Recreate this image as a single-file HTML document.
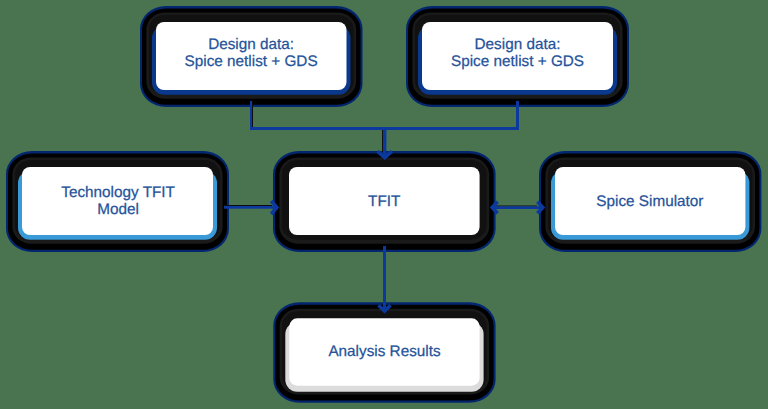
<!DOCTYPE html>
<html><head><meta charset="utf-8"><style>
html,body{margin:0;padding:0;background:#4a7350;overflow:hidden;}
svg{display:block;}
text{font-family:"Liberation Sans",sans-serif;text-rendering:geometricPrecision;}
</style></head><body>
<svg width="768" height="409" viewBox="0 0 768 409">
<rect x="0" y="0" width="768" height="409" fill="#4a7350"/>
<rect x="140.00" y="6.00" width="222.50" height="101.00" rx="26.00" ry="23.00" fill="#03276f"/>
<rect x="142.00" y="8.40" width="218.50" height="96.40" rx="24.00" ry="21.00" fill="#000000"/>
<rect x="146.40" y="12.40" width="209.70" height="86.40" rx="19.00" ry="17.00" fill="#1a1a1b"/>
<rect x="149.00" y="15.00" width="204.50" height="79.70" rx="16.00" ry="14.00" fill="#111111"/>
<rect x="152.00" y="26.00" width="198.50" height="68.80" rx="12.00" ry="12.00" fill="#0a388c"/>
<rect x="156.00" y="22.00" width="190.50" height="68.00" rx="8.00" ry="8.00" fill="#ffffff"/>
<rect x="406.00" y="6.00" width="223.00" height="101.00" rx="26.00" ry="23.00" fill="#03276f"/>
<rect x="408.00" y="8.40" width="219.00" height="96.40" rx="24.00" ry="21.00" fill="#000000"/>
<rect x="412.40" y="12.40" width="210.20" height="86.40" rx="19.00" ry="17.00" fill="#1a1a1b"/>
<rect x="415.00" y="15.00" width="205.00" height="79.70" rx="16.00" ry="14.00" fill="#111111"/>
<rect x="418.00" y="26.00" width="199.00" height="68.80" rx="12.00" ry="12.00" fill="#0a388c"/>
<rect x="422.00" y="22.00" width="191.00" height="68.00" rx="8.00" ry="8.00" fill="#ffffff"/>
<rect x="6.00" y="151.00" width="223.00" height="101.00" rx="26.00" ry="23.00" fill="#03276f"/>
<rect x="8.00" y="153.40" width="219.00" height="96.40" rx="24.00" ry="21.00" fill="#000000"/>
<rect x="12.40" y="157.40" width="210.20" height="86.40" rx="19.00" ry="17.00" fill="#1a1a1b"/>
<rect x="15.00" y="160.00" width="205.00" height="79.70" rx="16.00" ry="14.00" fill="#111111"/>
<rect x="18.00" y="171.00" width="199.00" height="68.80" rx="12.00" ry="12.00" fill="#3a9ad8"/>
<rect x="22.00" y="167.00" width="191.00" height="68.00" rx="8.00" ry="8.00" fill="#ffffff"/>
<rect x="273.00" y="151.00" width="222.60" height="101.00" rx="26.00" ry="23.00" fill="#03276f"/>
<rect x="275.00" y="153.40" width="218.60" height="96.40" rx="24.00" ry="21.00" fill="#000000"/>
<rect x="279.40" y="157.40" width="209.80" height="86.40" rx="19.00" ry="17.00" fill="#1a1a1b"/>
<rect x="282.00" y="160.00" width="204.60" height="79.70" rx="16.00" ry="14.00" fill="#111111"/>
<rect x="289.00" y="167.00" width="190.60" height="68.00" rx="8.00" ry="8.00" fill="#ffffff"/>
<rect x="539.00" y="151.00" width="222.40" height="101.00" rx="26.00" ry="23.00" fill="#03276f"/>
<rect x="541.00" y="153.40" width="218.40" height="96.40" rx="24.00" ry="21.00" fill="#000000"/>
<rect x="545.40" y="157.40" width="209.60" height="86.40" rx="19.00" ry="17.00" fill="#1a1a1b"/>
<rect x="548.00" y="160.00" width="204.40" height="79.70" rx="16.00" ry="14.00" fill="#111111"/>
<rect x="551.00" y="171.00" width="198.40" height="68.80" rx="12.00" ry="12.00" fill="#3a9ad8"/>
<rect x="555.00" y="167.00" width="190.40" height="68.00" rx="8.00" ry="8.00" fill="#ffffff"/>
<rect x="273.30" y="302.30" width="222.30" height="100.40" rx="26.00" ry="23.00" fill="#03276f"/>
<rect x="275.30" y="304.70" width="218.30" height="95.80" rx="24.00" ry="21.00" fill="#000000"/>
<rect x="279.70" y="308.70" width="209.50" height="85.80" rx="19.00" ry="17.00" fill="#1a1a1b"/>
<rect x="282.30" y="311.30" width="204.30" height="79.10" rx="16.00" ry="14.00" fill="#111111"/>
<rect x="285.30" y="322.30" width="198.30" height="69.40" rx="12.00" ry="12.00" fill="#dcdcdc"/>
<rect x="289.30" y="318.30" width="190.30" height="67.40" rx="8.00" ry="8.00" fill="#ffffff"/>
<rect x="252" y="101" width="1" height="29" fill="#0d0d0d"/>
<rect x="250" y="101" width="2" height="29" fill="#0b399e"/>
<rect x="516" y="101" width="3" height="29" fill="#0b399e"/>
<rect x="250" y="127" width="269" height="3" fill="#0b399e"/>
<rect x="382" y="130" width="1" height="22" fill="#111"/>
<rect x="383" y="130" width="3.4" height="26" fill="#0b399e"/>
<path d="M377.6,151.4 L384.7,157.6 L391.8,151.4" fill="none" stroke="#0b399e" stroke-width="3.6" stroke-linejoin="miter" stroke-miterlimit="4" stroke-linecap="butt"/>
<rect x="224" y="205" width="48" height="1" fill="#0d0d0d"/>
<rect x="224" y="206" width="52" height="2.7" fill="#0b399e"/>
<path d="M271.2,201 L276.8,207.5 L271.2,214" fill="none" stroke="#0b399e" stroke-width="3.6" stroke-linejoin="miter" stroke-miterlimit="4" stroke-linecap="butt"/>
<rect x="496" y="205.5" width="41" height="1" fill="#0d0d0d"/>
<rect x="492" y="206.3" width="50" height="2.7" fill="#0b399e"/>
<path d="M497.6,201.8 L492.2,207.5 L497.6,213.2" fill="none" stroke="#0b399e" stroke-width="3.6" stroke-linejoin="miter" stroke-miterlimit="4" stroke-linecap="butt"/>
<path d="M537.4,201.8 L542.8,207.5 L537.4,213.2" fill="none" stroke="#0b399e" stroke-width="3.6" stroke-linejoin="miter" stroke-miterlimit="4" stroke-linecap="butt"/>
<rect x="383" y="246" width="3" height="64" fill="#0b399e"/>
<path d="M378.5,305.2 L384.5,311 L390.5,305.2" fill="none" stroke="#0b399e" stroke-width="3.6" stroke-linejoin="miter" stroke-miterlimit="4" stroke-linecap="butt"/>
<text x="251.1" y="49" text-anchor="middle" font-size="15.3" fill="#26539a" stroke="#26539a" stroke-width="0.25">Design data:</text>
<text x="251.1" y="65.8" text-anchor="middle" font-size="15.3" fill="#26539a" stroke="#26539a" stroke-width="0.25">Spice netlist + GDS</text>
<text x="517.5" y="49" text-anchor="middle" font-size="15.3" fill="#26539a" stroke="#26539a" stroke-width="0.25">Design data:</text>
<text x="517.5" y="65.8" text-anchor="middle" font-size="15.3" fill="#26539a" stroke="#26539a" stroke-width="0.25">Spice netlist + GDS</text>
<text x="118.1" y="196.8" text-anchor="middle" font-size="15.3" fill="#26539a" stroke="#26539a" stroke-width="0.25">Technology TFIT</text>
<text x="118.1" y="213.6" text-anchor="middle" font-size="15.3" fill="#26539a" stroke="#26539a" stroke-width="0.25">Model</text>
<text x="384.25" y="206" text-anchor="middle" font-size="15.3" fill="#26539a" stroke="#26539a" stroke-width="0.25">TFIT</text>
<text x="649.9" y="206" text-anchor="middle" font-size="15.3" fill="#26539a" stroke="#26539a" stroke-width="0.25">Spice Simulator</text>
<text x="384.5" y="355.5" text-anchor="middle" font-size="15.3" fill="#26539a" stroke="#26539a" stroke-width="0.25">Analysis Results</text>
</svg>
</body></html>
